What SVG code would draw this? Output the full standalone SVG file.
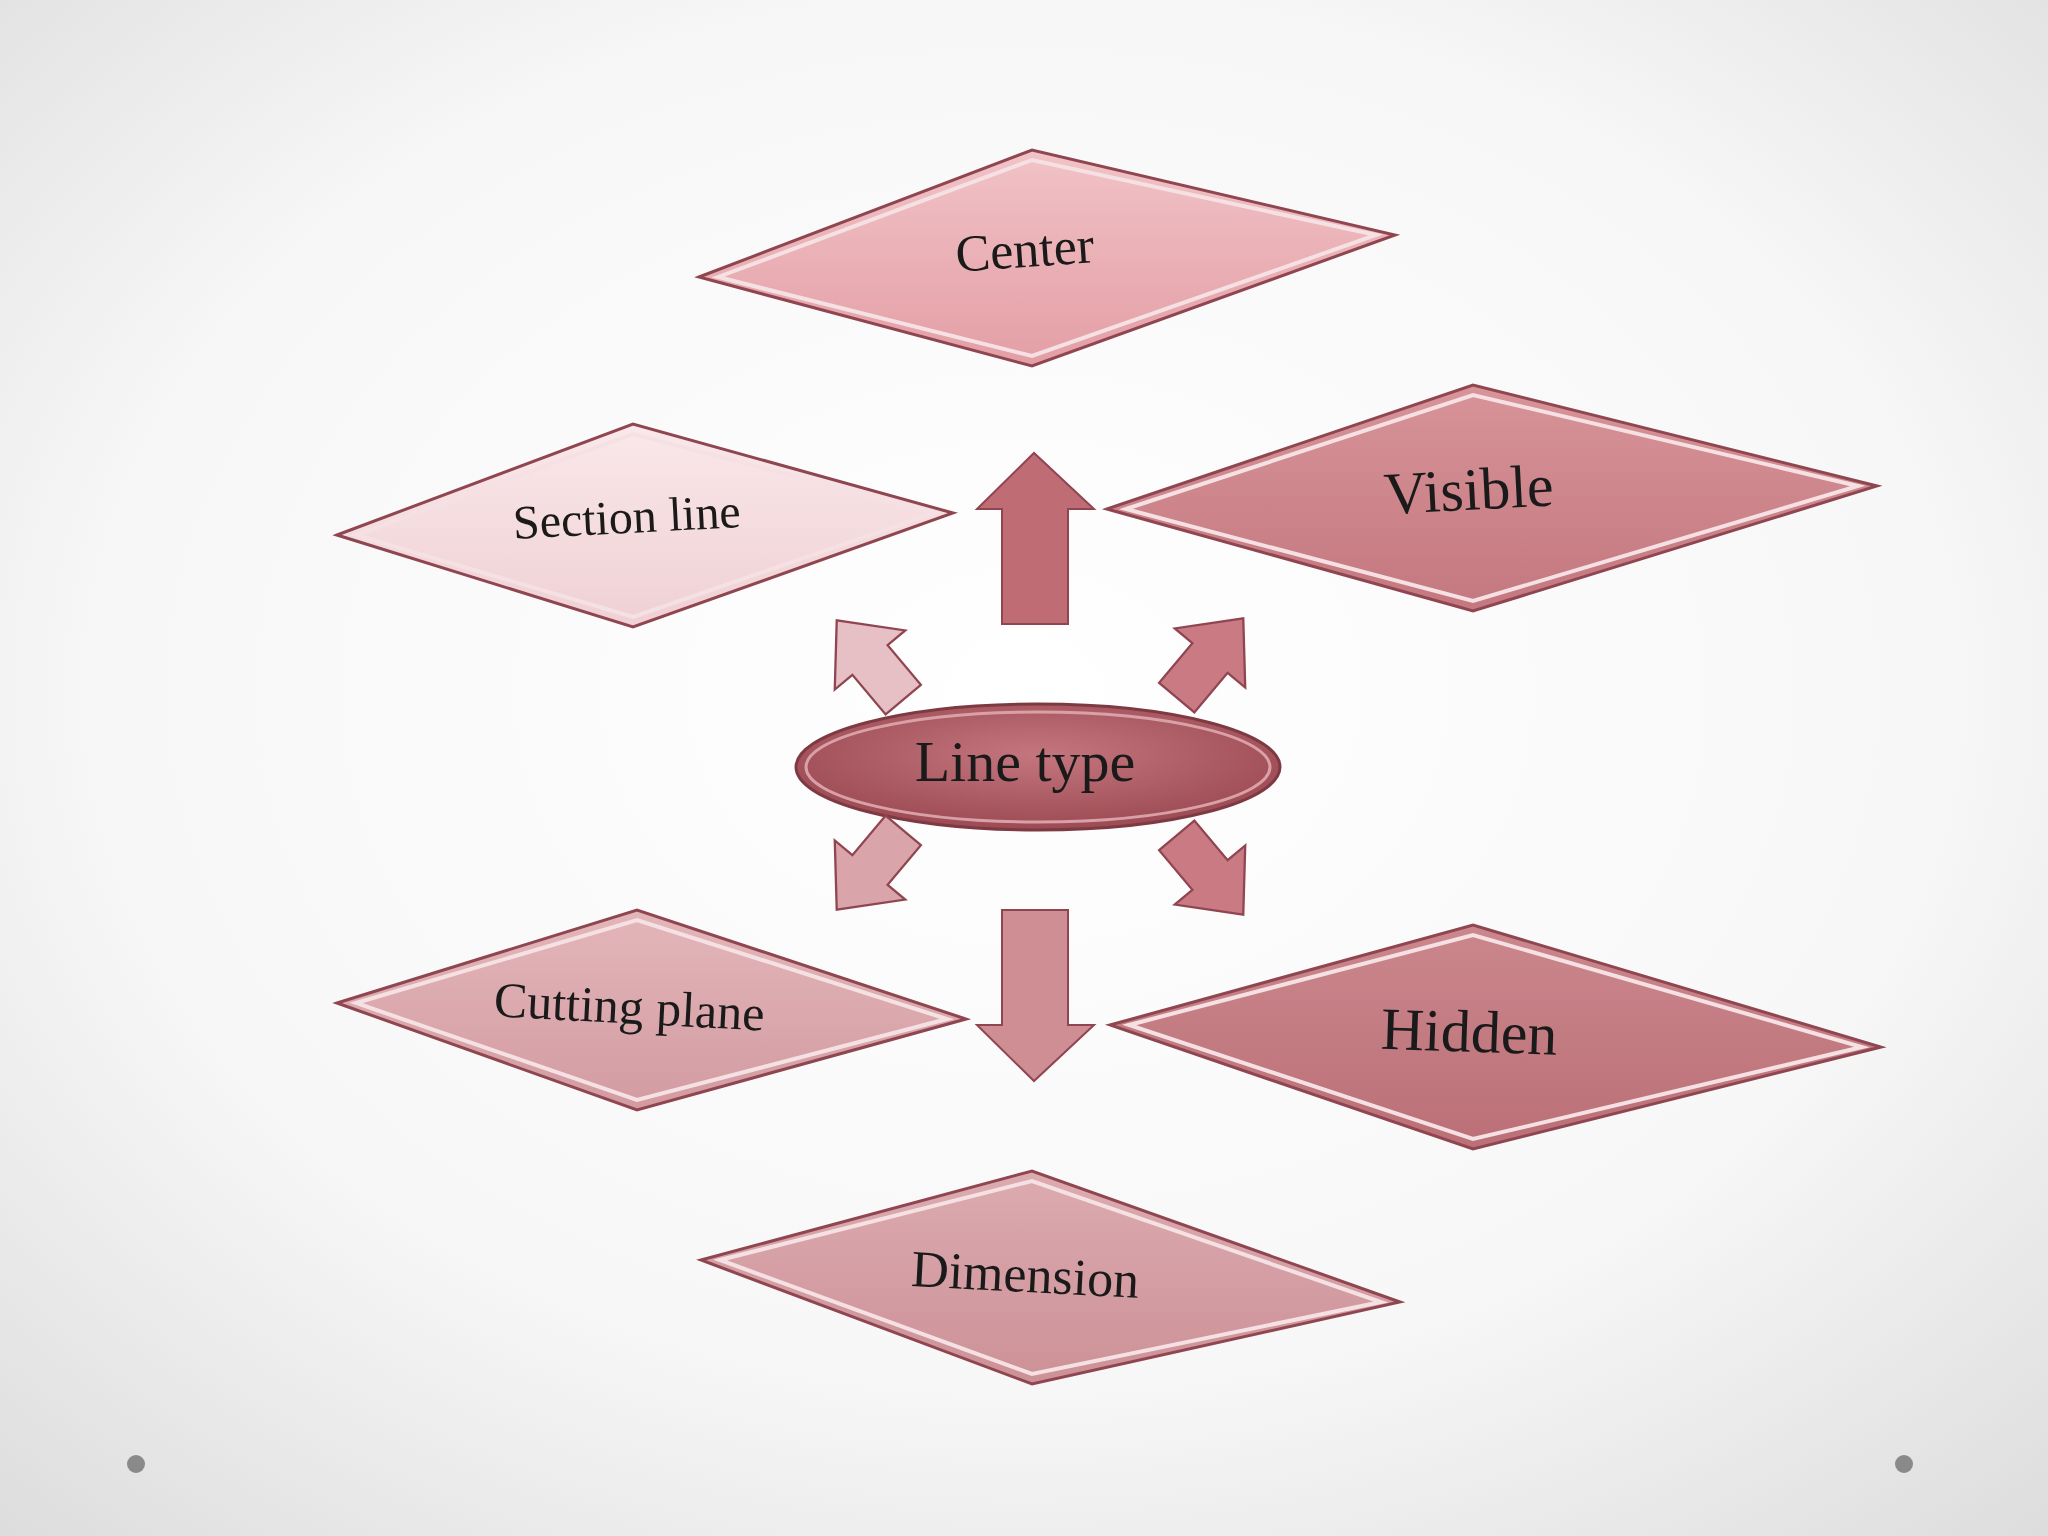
<svg xmlns="http://www.w3.org/2000/svg" width="2048" height="1536" viewBox="0 0 2048 1536">
<defs>
<radialGradient id="bg" cx="0.5" cy="0.45" r="0.75"><stop offset="0" stop-color="#ffffff"/><stop offset="0.6" stop-color="#f7f7f7"/><stop offset="1" stop-color="#dcdcdc"/></radialGradient>
<linearGradient id="gC" x1="0" y1="0" x2="0" y2="1"><stop offset="0" stop-color="#f1c3c7"/><stop offset="1" stop-color="#e39ea5"/></linearGradient>
<linearGradient id="gV" x1="0" y1="0" x2="0" y2="1"><stop offset="0" stop-color="#d79499"/><stop offset="1" stop-color="#c4777f"/></linearGradient>
<linearGradient id="gS" x1="0" y1="0" x2="0" y2="1"><stop offset="0" stop-color="#fae8ea"/><stop offset="1" stop-color="#efd0d4"/></linearGradient>
<linearGradient id="gP" x1="0" y1="0" x2="0" y2="1"><stop offset="0" stop-color="#e3b6ba"/><stop offset="1" stop-color="#d29ba1"/></linearGradient>
<linearGradient id="gH" x1="0" y1="0" x2="0" y2="1"><stop offset="0" stop-color="#cb878d"/><stop offset="1" stop-color="#bb6f77"/></linearGradient>
<linearGradient id="gD" x1="0" y1="0" x2="0" y2="1"><stop offset="0" stop-color="#dcabb0"/><stop offset="1" stop-color="#cc9197"/></linearGradient>
<radialGradient id="gL" cx="0.5" cy="0.4" r="0.6"><stop offset="0" stop-color="#c4767e"/><stop offset="1" stop-color="#9c4a53"/></radialGradient>
<path id="arr" d="M-20,45 L20,45 L20,0 L40,0 L0,-45 L-40,0 L-20,0 Z"/>
</defs>
<style>
.d{stroke:#8f4650;stroke-width:3;stroke-linejoin:miter}
.di{fill:none;stroke:#f5e1e3;stroke-width:4}
.t{font-family:"Liberation Serif",serif;fill:#1a1a1a;text-anchor:middle;dominant-baseline:middle}
.a{stroke:#8f4650;stroke-width:2;stroke-linejoin:miter}
</style>
<rect width="2048" height="1536" fill="url(#bg)"/>
<g id="center"><polygon class="d" fill="url(#gC)" points="699,277 1032,150 1395,235 1032,366"/><polygon class="di" points="718,277 1032,160 1376,235 1032,356"/><text class="t" x="1025" y="255" font-size="52" transform="rotate(-4 1025 255)">Center</text></g>
<g id="visible"><polygon class="d" fill="url(#gV)" points="1107,509 1473,385 1877,486 1473,611"/><polygon class="di" points="1126,509 1473,395 1858,486 1473,601"/><text class="t" x="1469" y="496" font-size="60" transform="rotate(-3 1469 496)">Visible</text></g>
<g id="section"><polygon class="d" fill="url(#gS)" points="337,535 633,424 953,513 633,627"/><polygon class="di" points="356,535 633,434 934,513 633,617"/><text class="t" x="627" y="522" font-size="48" transform="rotate(-3 627 522)">Section line</text></g>
<g id="cutting"><polygon class="d" fill="url(#gP)" points="337,1003 637,910 966,1019 637,1110"/><polygon class="di" points="356,1003 637,920 947,1019 637,1100"/><text class="t" x="629" y="1012" font-size="50" transform="rotate(3 629 1012)">Cutting plane</text></g>
<g id="hidden"><polygon class="d" fill="url(#gH)" points="1110,1025 1473,925 1881,1047 1473,1149"/><polygon class="di" points="1129,1025 1473,935 1862,1047 1473,1139"/><text class="t" x="1469" y="1038" font-size="60" transform="rotate(2 1469 1038)">Hidden</text></g>
<g id="dimension"><polygon class="d" fill="url(#gD)" points="701,1260 1032,1171 1400,1302 1032,1384"/><polygon class="di" points="720,1260 1032,1181 1381,1302 1032,1374"/><text class="t" x="1025" y="1280" font-size="52" transform="rotate(3 1025 1280)">Dimension</text></g>
<g id="linetype"><ellipse cx="1038" cy="767" rx="242" ry="63" fill="url(#gL)" stroke="#7e3a43" stroke-width="3"/><ellipse cx="1038" cy="767" rx="232" ry="55" fill="none" stroke="#d9a1a7" stroke-width="3"/><text class="t" x="1025" y="768" font-size="58">Line type</text></g>
<g id="connectors">
<polygon class="a" fill="#c06c75" points="1002,624 1068,624 1068,509 1094,509 1034,453 977,509 1002,509"/>
<polygon class="a" fill="#cf8e94" points="1002,910 1068,910 1068,1025 1094,1025 1034,1081 977,1025 1002,1025"/>
<use href="#arr" class="a" fill="#e6c0c4" transform="translate(870,660) rotate(-40) scale(1.15)"/>
<use href="#arr" class="a" fill="#c97a82" transform="translate(1210,658) rotate(40) scale(1.15)"/>
<use href="#arr" class="a" fill="#d9a5aa" transform="translate(870,870) rotate(-140) scale(1.15)"/>
<use href="#arr" class="a" fill="#c97a82" transform="translate(1210,875) rotate(140) scale(1.15)"/>
</g>
<circle cx="136" cy="1464" r="9" fill="#8a8a8a"/>
<circle cx="1904" cy="1464" r="9" fill="#8a8a8a"/>
</svg>
